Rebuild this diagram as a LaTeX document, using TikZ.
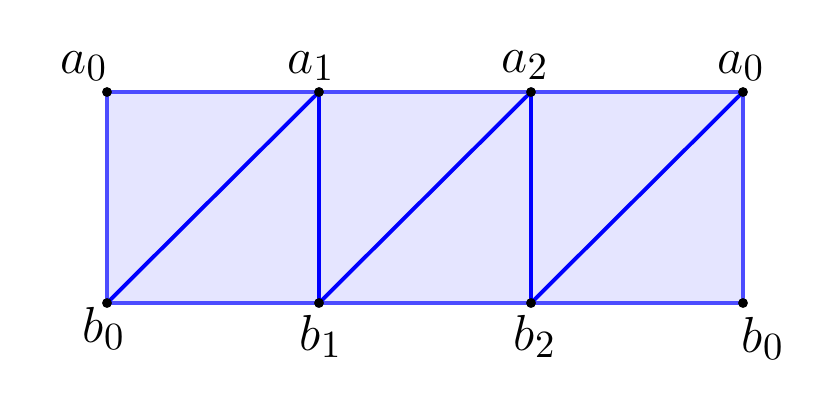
\documentclass[tikz,border=0pt]{standalone}
\begin{document}
\begin{tikzpicture}[x=0.01cm,y=-0.01cm,
  edge/.style={blue,line width=1.1pt},
  outer/.style={blue!70,line width=1.1pt},
  dot/.style={circle,fill=black,inner sep=0pt,minimum size=2.8pt},
  lab/.style={anchor=base,inner sep=0pt,font=\fontsize{15.5}{18}\selectfont}]
\useasboundingbox (0,0) rectangle (820,402);
\coordinate (A0) at (107,92);
\coordinate (A1) at (319,92);
\coordinate (A2) at (531,92);
\coordinate (A3) at (743,92);
\coordinate (B0) at (107,303);
\coordinate (B1) at (319,303);
\coordinate (B2) at (531,303);
\coordinate (B3) at (743,303);
\fill[blue!10] (A0) rectangle (B3);
\draw[outer] (A0) -- (A3) -- (B3) -- (B0) -- cycle;
\draw[edge] (B0) -- (A1) -- (B1) -- (A2) -- (B2) -- (A3);
\foreach \p in {A0,A1,A2,A3,B0,B1,B2,B3} \node[dot] at (\p) {};
\node[lab] (la0) at (84,73) {$a_0$};
\node[lab] (la1) at (311,73) {$a_1$};
\node[lab] (la2) at (525,72) {$a_2$};
\node[lab] (la3) at (741,73) {$a_0$};
\node[lab] (lb0) at (104,342) {$b_0$};
\node[lab] (lb1) at (321,350) {$b_1$};
\node[lab] (lb2) at (535,350) {$b_2$};
\node[lab] (lb3) at (763,352) {$b_0$};
\end{tikzpicture}
\end{document}
